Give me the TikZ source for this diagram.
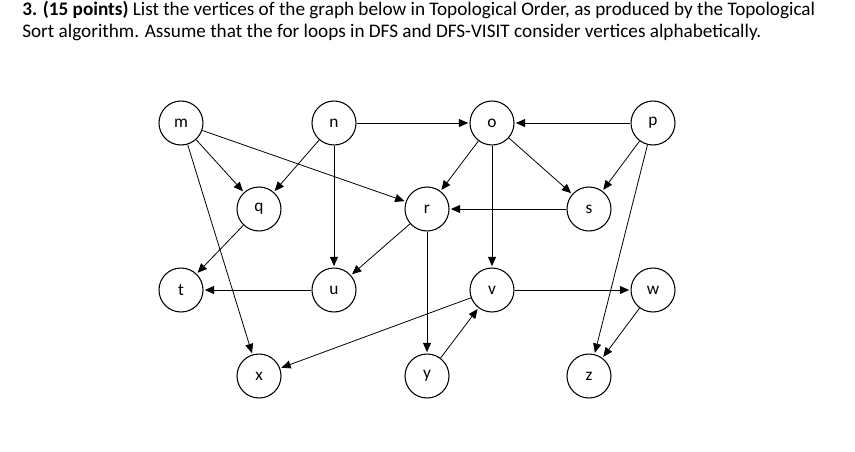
\documentclass[tikz,border=0pt]{standalone}
\usepackage{fontspec}
\setmainfont{Carlito}
\usetikzlibrary{arrows.meta}
\begin{document}
\begin{tikzpicture}[x=0.75pt,y=-0.75pt,
  vtx/.style={circle,draw,line width=0.8pt,minimum size=33pt,inner sep=0pt,font=\fontsize{13}{15}\selectfont},
  edge/.style={line width=0.6pt,-{Triangle[length=7pt,width=6pt]},shorten >=1pt}]
\path[use as bounding box] (0,0) rectangle (855,451);
\node[anchor=base west,align=left,font=\fontsize{14.4}{16.5}\selectfont,inner sep=0pt] (title) at (22,37)
{\textbf{3. (15 points)} List the vertices of the graph below in Topological Order, as produced by the Topological\\Sort algorithm. Assume that the for loops in DFS and DFS-VISIT consider vertices alphabetically.};
\node[vtx] (m) at (181,123) {m};
\node[vtx] (n) at (334,123) {n};
\node[vtx] (o) at (492,123) {o};
\node[vtx] (p) at (653,123) {p};
\node[vtx] (q) at (259,209) {q};
\node[vtx] (r) at (427,209) {r};
\node[vtx] (s) at (589,209) {s};
\node[vtx] (t) at (181,290) {t};
\node[vtx] (u) at (334,290) {u};
\node[vtx] (v) at (492,290) {v};
\node[vtx] (w) at (653,290) {w};
\node[vtx] (x) at (259,376) {x};
\node[vtx] (y) at (427,376) {y};
\node[vtx] (z) at (589,376) {z};
\foreach \a/\b in {n/o,p/o,m/q,m/r,m/x,n/q,n/u,o/r,o/s,o/v,p/s,p/z,s/r,r/u,r/y,q/t,u/t,v/w,v/x,y/v,w/z}
  \draw[edge] (\a) -- (\b);
\end{tikzpicture}
\end{document}
